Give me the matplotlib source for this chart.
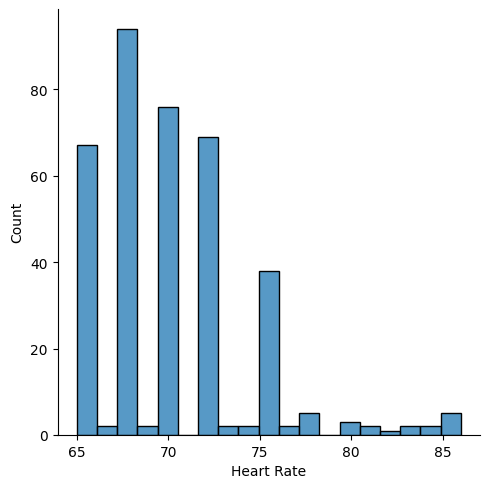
import numpy as np
import matplotlib
matplotlib.use("Agg")
import matplotlib.pyplot as plt
from matplotlib.colors import to_rgba

bin_edges = np.linspace(65, 86, 20)
counts = [67, 2, 94, 2, 76, 0, 69, 2, 2, 38, 2, 5, 0, 3, 2, 1, 2, 2, 5]
centers = (bin_edges[:-1] + bin_edges[1:]) / 2

fig = plt.figure(figsize=(4.9, 4.89), dpi=100)
ax = fig.add_axes([57.5/490, (489-436)/489, (480-57.5)/490, (436-9.5)/489])
ax.hist(centers, bins=bin_edges, weights=counts,
        facecolor=to_rgba("#1f77b4", 0.75), edgecolor="black", linewidth=1.0)
ax.set_xlim(bin_edges[0] - 0.05 * 21, bin_edges[-1] + 0.05 * 21)
ax.set_xlabel("Heart Rate")
ax.set_ylabel("Count")
ax.spines["top"].set_visible(False)
ax.spines["right"].set_visible(False)
fig.savefig("out.png", dpi=100)
